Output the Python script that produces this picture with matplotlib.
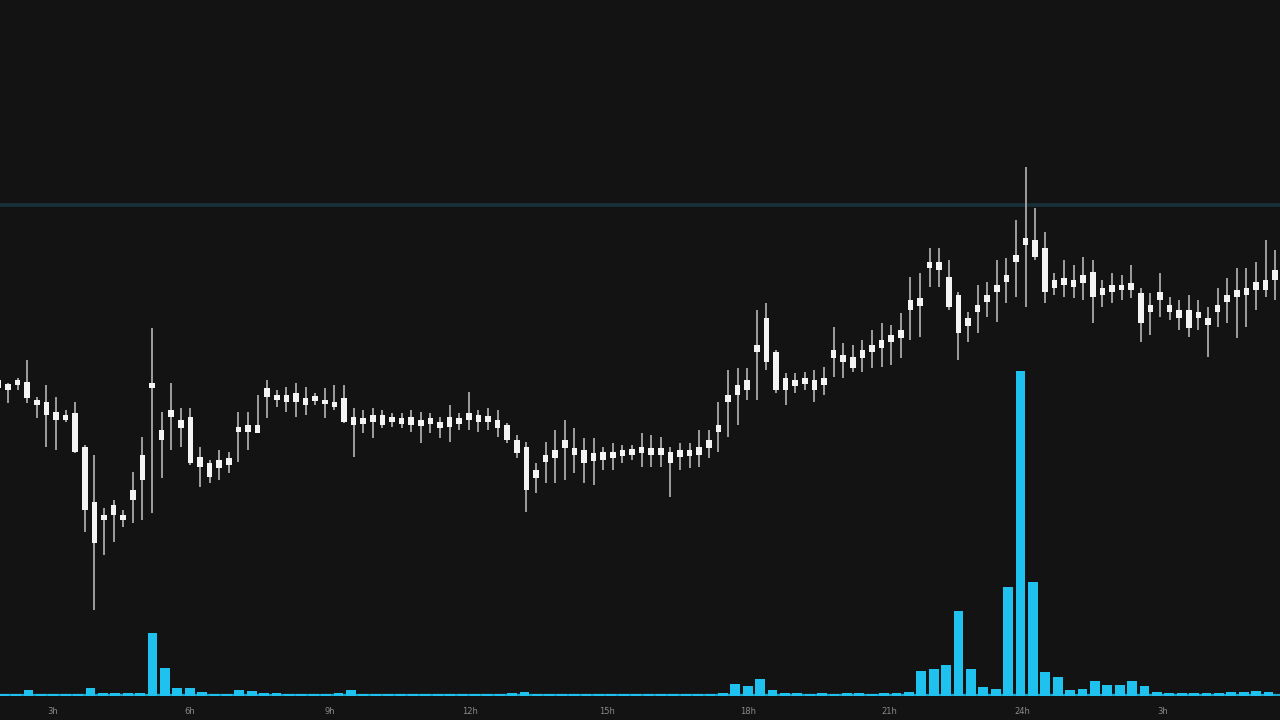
import numpy as np
import matplotlib
matplotlib.use("Agg")
import matplotlib.pyplot as plt

# ---- candle data (price units) ----
highs = [345, 337, 342, 360, 323, 335, 323, 310, 318, 275, 265, 212, 220, 210, 248, 283, 392, 308, 337, 312,
         312, 273, 260, 270, 268, 308, 308, 325, 340, 330, 333, 337, 333, 327, 332, 335, 335, 312, 310, 312,
         310, 307, 307, 310, 308, 307, 303, 315, 307, 328, 310, 312, 310, 297, 285, 278, 257, 278, 290, 300,
         292, 282, 282, 273, 277, 275, 275, 287, 285, 283, 273, 277, 277, 290, 290, 318, 350, 352, 352, 410,
         417, 370, 347, 347, 348, 350, 353, 393, 377, 375, 380, 390, 397, 395, 407, 443, 447, 472, 472, 460,
         428, 408, 435, 438, 460, 462, 500, 553, 512, 488, 447, 460, 455, 463, 460, 440, 447, 445, 455, 432,
         427, 447, 423, 420, 425, 420, 413, 432, 442, 452, 452, 458, 480, 470]
lows = [325, 317, 330, 317, 302, 273, 270, 298, 267, 188, 110, 165, 178, 193, 197, 200, 207, 242, 270, 273,
        255, 233, 237, 240, 247, 258, 270, 287, 302, 313, 308, 303, 305, 315, 302, 310, 297, 263, 287, 282,
        292, 293, 292, 288, 277, 287, 282, 278, 290, 290, 288, 290, 283, 277, 262, 208, 227, 237, 237, 240,
        247, 237, 235, 250, 250, 257, 260, 253, 253, 253, 223, 250, 252, 253, 262, 268, 283, 295, 320, 320,
        350, 327, 315, 327, 330, 318, 325, 343, 342, 348, 348, 352, 353, 355, 362, 380, 383, 433, 433, 410,
        360, 378, 387, 403, 398, 417, 423, 413, 460, 417, 425, 423, 422, 420, 397, 413, 417, 420, 422, 378,
        385, 403, 400, 390, 383, 390, 363, 393, 397, 382, 393, 410, 423, 420]
opens = [332, 330, 335, 322, 315, 305, 300, 300, 268, 210, 177, 200, 205, 200, 220, 240, 332, 280, 303, 292,
         257, 253, 243, 252, 255, 288, 288, 287, 323, 320, 318, 318, 315, 319, 316, 313, 298, 295, 296, 298,
         295, 298, 296, 295, 294, 296, 292, 293, 296, 300, 298, 298, 292, 280, 267, 230, 242, 258, 262, 272,
         265, 257, 259, 260, 262, 264, 265, 267, 265, 265, 257, 263, 264, 265, 272, 288, 318, 325, 330, 368,
         358, 330, 330, 334, 336, 330, 335, 362, 358, 352, 362, 368, 372, 378, 382, 410, 414, 452, 450, 413,
         387, 394, 408, 418, 428, 438, 458, 475, 463, 428, 432, 435, 433, 437, 423, 425, 428, 430, 430, 397,
         408, 420, 408, 402, 392, 402, 395, 408, 418, 423, 425, 430, 430, 440]
closes = [340, 336, 340, 338, 320, 318, 308, 305, 307, 273, 218, 205, 215, 205, 230, 265, 337, 290, 310, 300,
          303, 263, 257, 260, 262, 293, 295, 295, 332, 325, 325, 327, 322, 324, 320, 318, 322, 303, 302, 305,
          305, 303, 302, 303, 300, 302, 298, 303, 302, 307, 305, 304, 300, 295, 280, 273, 250, 265, 270, 280,
          272, 270, 267, 268, 268, 270, 271, 273, 272, 272, 268, 270, 270, 273, 280, 295, 325, 335, 340, 375,
          402, 368, 342, 340, 342, 340, 342, 370, 365, 363, 370, 375, 380, 385, 390, 420, 422, 458, 458, 443,
          425, 402, 415, 425, 435, 445, 465, 482, 480, 472, 440, 442, 440, 445, 448, 432, 435, 435, 437, 427,
          415, 428, 415, 410, 410, 408, 402, 415, 425, 430, 432, 438, 440, 450]

# ---- volume data ----
volume = [2, 2, 6, 2, 2, 2, 2, 8, 3, 3, 3, 3, 63, 28, 8, 8, 4, 2, 2, 6,
          5, 3, 3, 2, 2, 2, 2, 3, 6, 2, 2, 2, 2, 2, 2, 2, 2, 2, 2, 2,
          2, 3, 4, 2, 2, 2, 2, 2, 2, 2, 2, 2, 2, 2, 2, 2, 2, 2, 3, 12,
          10, 17, 6, 3, 3, 2, 3, 2, 3, 3, 2, 3, 3, 4, 25, 27, 31, 85, 27, 9,
          7, 109, 325, 114, 24, 19, 6, 7, 15, 11, 11, 15, 10, 4, 3, 3, 3, 3, 3, 4,
          4, 5, 4]

level_line = 515
tick_labels = ['3h', '6h', '9h', '12h', '15h', '18h', '21h', '24h', '3h']

BG = '#131313'
VOL_COLOR = '#1fc2ef'
fig = plt.figure(figsize=(12.8, 7.2), dpi=100, facecolor=BG)

# volume axes (behind)
vax = fig.add_axes([0, 24 / 720, 1, 696 / 720])
vax.set_facecolor(BG)
vx = np.arange(len(volume))
vax.bar(vx, volume, width=0.8, color=VOL_COLOR, linewidth=0)
vax.axhline(0.8, color=VOL_COLOR, linewidth=1.6, alpha=0.85)
vax.set_xlim(-0.298, 102.93)
vax.set_ylim(0, 696)
vax.axis('off')

# price axes (on top)
ax = fig.add_axes([0, 0, 1, 1])
ax.patch.set_alpha(0)
x = np.arange(len(highs))
o = np.array(opens, float)
c = np.array(closes, float)
ax.vlines(x, lows, highs, color='#a9a9a9', linewidth=1.3, zorder=2)
bottoms = np.minimum(o, c)
heights = np.maximum(np.abs(c - o), 2.5)
ax.bar(x, heights, bottom=bottoms, width=0.58, color='#f4f4f4', linewidth=0, zorder=3)
ax.axhline(level_line, color='#17313b', linewidth=2.6, zorder=1)
ax.set_xlim(0.1667, 133.5)
ax.set_ylim(0, 720)
ax.axis('off')

tick_px = [53, 190, 330, 470, 607, 748, 889, 1022, 1163]
for px, lab in zip(tick_px, tick_labels):
    fig.text(px / 1280, 1 - 711 / 720, lab, color='#8a8a8a', fontsize=6,
             ha='center', va='center')

fig.savefig('out.png', dpi=100, facecolor=BG)
